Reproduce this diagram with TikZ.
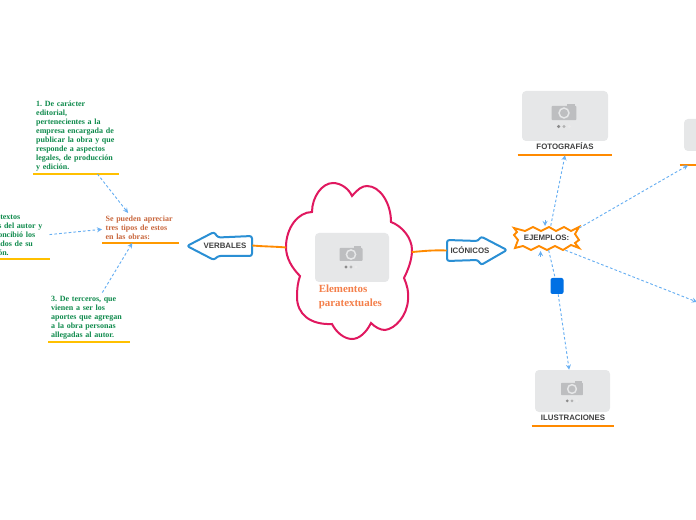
\documentclass[tikz,border=0pt]{standalone}
\usepackage{fontspec}
\setmainfont{Liberation Serif}
\setsansfont{Liberation Sans}
\definecolor{notegreen}{HTML}{0F8A4C}
\definecolor{introbrown}{HTML}{C8663C}
\definecolor{titleorange}{HTML}{F47F4A}
\definecolor{branch}{HTML}{FF8A00}
\definecolor{underyellow}{HTML}{FFC000}
\definecolor{arrowblue}{HTML}{2A8FD4}
\definecolor{linkblue}{HTML}{66AEF2}
\definecolor{markerblue}{HTML}{0070E4}
\definecolor{cloudred}{HTML}{E0185F}
\definecolor{photogrey}{HTML}{E6E7E8}
\definecolor{camgrey}{HTML}{BDBEC0}
\tikzset{
  note/.style={anchor=south west,align=left,inner xsep=2.2pt,inner ysep=2.2pt,font=\frenchspacing\bfseries\fontsize{6}{6.75}\selectfont},
  label/.style={inner sep=0pt,text=black!75,font=\sffamily\bfseries\fontsize{5.9}{7}\selectfont},
  photo/.style={fill=photogrey,rounded corners=3pt,inner sep=0pt},
  link/.style={draw=linkblue,line width=.7pt,dash pattern=on 2pt off 1.6pt,-stealth},
  branchline/.style={draw=branch,line width=1.4pt},
  arrowline/.style={draw=arrowblue,line width=1.5pt,line join=round,rounded corners=1.8pt},
  pics/camera/.style={code={
    \fill[camgrey,rounded corners=.6pt] (-11.5,-6.5) rectangle (11.5,6.5);
    \fill[camgrey] (3,-8.2) rectangle (10,-6);
    \draw[photogrey,line width=1.1pt] (0,0) circle[radius=4.6];
    \fill[black!45] (-5,12.5) circle[radius=1.6];
    \fill[black!30] (0,12.5) circle[radius=1.6];
    \fill[black!8] (5,12.5) circle[radius=1.6];
  }},
}
\begin{document}
\begin{tikzpicture}[x=.75pt,y=-.75pt]
\useasboundingbox (0,0) rectangle (696,520);
% centre
\draw[cloudred,line width=1.5pt,fill=white]
  (312,212) .. controls (312,197) and (322,183) .. (333,183)
  .. controls (341,183) and (349,189) .. (352,196)
  .. controls (358,189) and (362,186) .. (367,186)
  .. controls (380,186) and (391,203) .. (391,222)
  .. controls (402,226) and (412,238) .. (412,250)
  .. controls (412,260) and (408,270) .. (404,278)
  .. controls (407,285) and (409,292) .. (408,300)
  .. controls (407,316) and (395,329) .. (385,330)
  .. controls (380,330) and (375,327) .. (371,323)
  .. controls (366,333) and (359,339) .. (352,339)
  .. controls (344,339) and (336,332) .. (332,324)
  .. controls (310,325) and (297,314) .. (297,297)
  .. controls (297,288) and (298,282) .. (300,276)
  .. controls (292,268) and (286,258) .. (286,247)
  .. controls (286,228) and (298,212) .. (312,212) -- cycle;
\node[inner sep=0pt,minimum width=125*.75pt,minimum height=155*.75pt] (cloud) at (349,262) {};
\node[photo,minimum width=74*.75pt,minimum height=49*.75pt] (mainphoto) at (352,257.5) {};
\pic at (351,254.5) {camera};
\node[anchor=north west,align=left,inner sep=0pt,text=titleorange,font=\bfseries\fontsize{8.2}{10}\selectfont] (title) at (318.5,285) {Elementos\\paratextuales};
% left branch
\draw[arrowline,fill=white] (187,246) -- (214,232) -- (218,237.5) -- (252,236) -- (252,256) -- (218,256) -- (214,260) -- cycle;
\node[label,minimum width=54*.75pt,minimum height=20*.75pt] (verbales) at (225,245.5) {VERBALES};
\draw[branchline] (cloud.167) to[out=175,in=-5] (verbales.east);
\node[note,text=introbrown,text width=52pt,inner xsep=2.5pt] (intro) at (102,243) {Se pueden apreciar\\tres tipos de estos\\en las obras:};
\node[note,text=notegreen,text width=60pt] (note1) at (33,174) {1. De carácter\\editorial,\\pertenecientes a la\\empresa encargada de\\publicar la obra y que\\responde a aspectos\\legales, de producción\\y edición.};
\node[note,text=notegreen,text width=38.25pt,inner xsep=0pt] (note2) at (-2,259) {\hspace*{1.5pt}textos\\s del autor y\\oncibió los\\idos de su\\ón.};
\node[note,text=notegreen,text width=57pt] (note3) at (48,342) {3. De terceros, que\\vienen a ser los\\aportes que agregan\\a la obra personas\\allegadas al autor.};
\draw[underyellow,line width=1.1pt] (note1.south west) -- (note1.south east);
\draw[underyellow,line width=1.1pt] (note2.south west) -- (note2.south east);
\draw[underyellow,line width=1.1pt] (note3.south west) -- (note3.south east);
\draw[branch!70!underyellow,line width=1.1pt] (intro.south west) -- (intro.south east);
\draw[link] (note1.-61) -- (intro.129);
\draw[link] (note2.2) -- (intro.182);
\draw[link] (note3.62) -- (intro.242);
% right branch
\draw[arrowline,fill=white] (447,240) -- (478,241) -- (481,236.5) -- (507,250) -- (481,265) -- (478,260) -- (447,261) -- cycle;
\node[label,minimum width=46*.75pt,minimum height=20*.75pt] (iconicos) at (470,250.5) {ICÓNICOS};
\draw[branchline] (cloud.9) to[out=5,in=178] (iconicos.west);
\draw[branch,line width=1.4pt,fill=white,line join=miter] (514,228) -- (525,231) -- (533,227) -- (541,231) -- (549,227) -- (556,231) -- (564,227) -- (571,231) -- (579,227) -- (575,234) -- (579,240) -- (575,243) -- (579,248) -- (571,245) -- (563,250) -- (555,246) -- (547,250) -- (539,246) -- (531,250) -- (523,246) -- (515,248) -- (518,240) -- (514,235) -- (517,232) -- cycle;
\node[label,minimum width=65*.75pt,minimum height=24*.75pt] (ejemplos) at (546.5,238) {EJEMPLOS:};
% examples
\node[photo,minimum width=86*.75pt,minimum height=50*.75pt] (fotos) at (565,116) {};
\pic[scale=1.08] at (564,113) {camera};
\node[label,minimum width=94*.75pt,minimum height=17*.75pt] (fotolabel) at (565,146.5) {FOTOGRAFÍAS};
\draw[branch,line width=1.3pt] (fotolabel.south west) -- (fotolabel.south east);
\node[photo,minimum width=24*.75pt,minimum height=32*.75pt] (rightphoto) at (696,135) {};
\node[inner sep=0pt,minimum width=16*.75pt,minimum height=4*.75pt] (rightlabel) at (688,163) {};
\draw[branch,line width=1.3pt] (rightlabel.south west) -- (rightlabel.south east);
\node[photo,minimum width=75*.75pt,minimum height=42*.75pt] (ilusphoto) at (572.5,391) {};
\pic[scale=.95] at (572,389) {camera};
\node[label,minimum width=82*.75pt,minimum height=17*.75pt] (iluslabel) at (573,417.5) {ILUSTRACIONES};
\draw[branch,line width=1.3pt] (iluslabel.south west) -- (iluslabel.south east);
\node[fill=markerblue,rounded corners=1.5pt,inner sep=0pt,minimum width=13*.75pt,minimum height=16*.75pt] (marker) at (557,286) {};
\coordinate (rightend) at (697,302);
\coordinate (uppera) at (545,220);
\coordinate (upperb) at (545,226);
\coordinate (lowera) at (540.5,257);
\coordinate (lowerb) at (540.5,251);
\draw[link] (ejemplos.71) -- (fotolabel.south);
\draw[link] (ejemplos.17) -- (rightlabel.south);
\draw[link] (ejemplos.-33) -- (rightend);
\draw[link,-] (ejemplos.-80) -- (marker);
\draw[link] (marker) -- (ilusphoto.99);
\draw[link] (uppera) -- (upperb);
\draw[link] (lowera) -- (lowerb);
\end{tikzpicture}
\end{document}
